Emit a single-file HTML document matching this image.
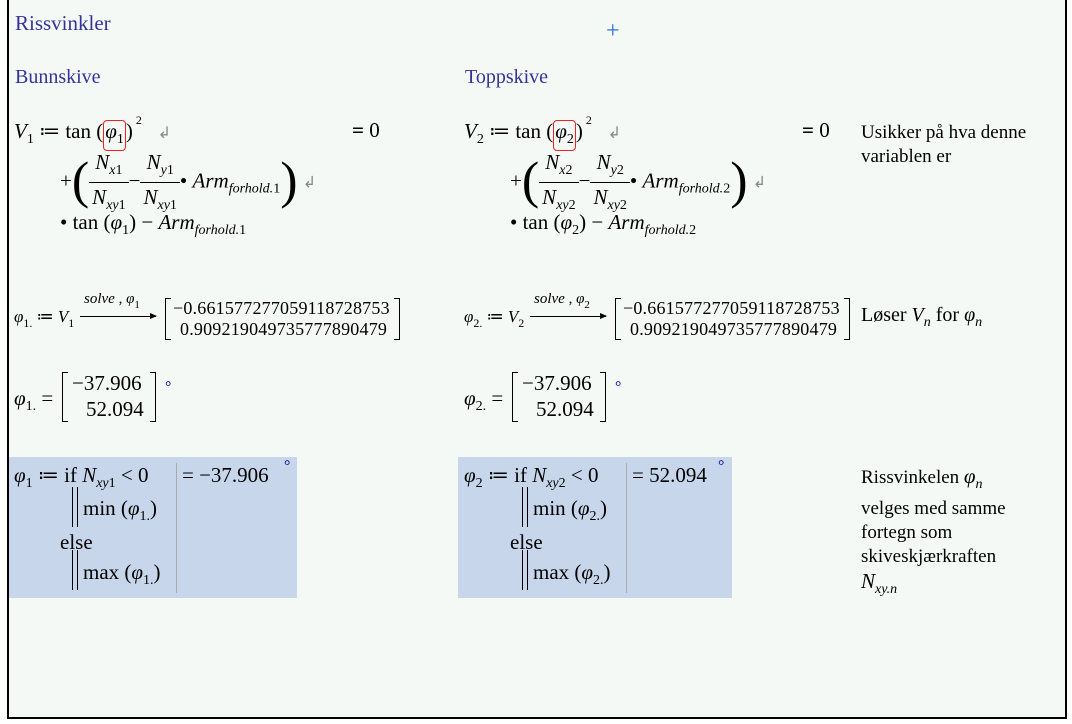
<!DOCTYPE html><html><head><meta charset="utf-8"><style>
body{margin:0;width:1072px;height:724px;background:#fff;position:relative;overflow:hidden;font-family:"Liberation Serif",serif;color:#000}
#pg{position:absolute;left:7px;top:0;width:1060px;height:719px;background:#f5f9f5;border-left:2px solid #000;border-right:2px solid #000;border-bottom:2px solid #000;box-sizing:border-box}
.a{position:absolute;white-space:nowrap;font-size:21px;line-height:1}
.h{color:#33339a}
i{font-style:italic}
sub{font-size:14px;vertical-align:-5px}
.sm{font-size:17px}
.fr{display:inline-block;text-align:center;vertical-align:middle}
.fr span{display:block;padding:0 3px}
.fr .t{border-bottom:1px solid #000;padding-bottom:4px}
.fr .b{padding-top:4px}
.hl{position:absolute;background:#c7d6ea}
.deg{color:#1a1aa0;font-size:16px;font-weight:bold}
.rb{display:inline-block;border:1.5px solid #e22;border-radius:4px;padding:0 1px;line-height:20px}
.br{position:absolute;border:1.5px solid #000;width:5px}
.gr{color:#888;font-size:16px}
.vl{position:absolute;width:1px;background:#aaa}
.dl{position:absolute;width:4px;border-left:1.5px solid #000;border-right:1.5px solid #000}
.num{font-size:18px;letter-spacing:0.2px}
.arr{position:absolute;height:1px;background:#000}
.arr:after{content:"";position:absolute;right:-1px;top:-3px;border-left:7px solid #000;border-top:3.5px solid transparent;border-bottom:3.5px solid transparent}
</style></head><body><div id="pg"></div>
<div class="a h" style="left:15px;top:13px;font-size:21px">Rissvinkler</div>
<div class="a" style="left:606px;top:19px;color:#2a6fe0;font-size:24px">+</div>
<div class="a h" style="left:15px;top:67px;font-size:20px">Bunnskive</div>
<div class="a h" style="left:465px;top:67px;font-size:20px">Toppskive</div>

<!-- left block -->
<div class="a" style="left:14px;top:114px"><i>V</i><sub>1</sub> ≔ tan (<span class="rb"><i>φ</i><sub>1</sub></span>)<sup style="font-size:12px;vertical-align:14px">&nbsp;2</sup> &nbsp;&nbsp;<span class="gr">↲</span></div>
<div class="a" style="left:352px;top:120px"><b>=</b> 0</div>
<div class="a" style="left:60px;top:152px">+<span style="font-size:52px;vertical-align:-10px;font-weight:100">(</span><span class="fr"><span class="t"><i>N</i><sub><i>x</i>1</sub></span><span class="b"><i>N</i><sub><i>xy</i>1</sub></span></span>−<span class="fr"><span class="t"><i>N</i><sub><i>y</i>1</sub></span><span class="b"><i>N</i><sub><i>xy</i>1</sub></span></span>• <i>Arm</i><sub><i>forhold.</i>1</sub><span style="font-size:52px;vertical-align:-10px">)</span> <span class="gr">↲</span></div>
<div class="a" style="left:60px;top:212px">• tan (<i>φ</i><sub>1</sub>) − <i>Arm</i><sub><i>forhold.</i>1</sub></div>

<div class="a sm" style="left:14px;top:308px"><i>φ</i><sub style="font-size:12px">1.</sub> ≔ <i>V</i><sub style="font-size:12px">1</sub></div>
<div class="a" style="left:84px;top:292px;font-size:15px"><i>solve</i> , <i>φ</i><sub style="font-size:11px">1</sub></div>
<div class="arr" style="left:80px;top:316px;width:76px"></div>
<div class="br" style="left:165px;top:298px;height:40px;border-right:none"></div>
<div class="a num" style="left:173px;top:299px">−0.661577277059118728753</div>
<div class="a num" style="left:180px;top:320px">0.909219049735777890479</div>
<div class="br" style="left:394px;top:298px;height:40px;border-left:none"></div>

<div class="a" style="left:14px;top:388px"><i>φ</i><sub>1.</sub> =</div>
<div class="br" style="left:62px;top:372px;height:48px;border-right:none"></div>
<div class="a" style="left:72px;top:373px">−37.906</div>
<div class="a" style="left:86px;top:399px">52.094</div>
<div class="br" style="left:150px;top:372px;height:48px;border-left:none"></div>
<div class="a deg" style="left:165px;top:380px">°</div>

<div class="hl" style="left:9px;top:457px;width:288px;height:141px"></div>
<div class="a" style="left:14px;top:465px"><i>φ</i><sub>1</sub> ≔ if <i>N</i><sub><i>xy</i>1</sub> &lt; 0</div>
<div class="vl" style="left:176px;top:463px;height:130px"></div>
<div class="a" style="left:182px;top:465px">= −37.906</div>
<div class="a deg" style="left:284px;top:459px">°</div>
<div class="dl" style="left:72px;top:487px;height:40px"></div>
<div class="a" style="left:83px;top:498px">min (<i>φ</i><sub>1.</sub>)</div>
<div class="a" style="left:60px;top:532px">else</div>
<div class="dl" style="left:72px;top:550px;height:40px"></div>
<div class="a" style="left:83px;top:562px">max (<i>φ</i><sub>1.</sub>)</div>

<!-- right block -->
<div class="a" style="left:464px;top:114px"><i>V</i><sub>2</sub> ≔ tan (<span class="rb"><i>φ</i><sub>2</sub></span>)<sup style="font-size:12px;vertical-align:14px">&nbsp;2</sup> &nbsp;&nbsp;<span class="gr">↲</span></div>
<div class="a" style="left:802px;top:120px"><b>=</b> 0</div>
<div class="a" style="left:510px;top:152px">+<span style="font-size:52px;vertical-align:-10px">(</span><span class="fr"><span class="t"><i>N</i><sub><i>x</i>2</sub></span><span class="b"><i>N</i><sub><i>xy</i>2</sub></span></span>−<span class="fr"><span class="t"><i>N</i><sub><i>y</i>2</sub></span><span class="b"><i>N</i><sub><i>xy</i>2</sub></span></span>• <i>Arm</i><sub><i>forhold.</i>2</sub><span style="font-size:52px;vertical-align:-10px">)</span> <span class="gr">↲</span></div>
<div class="a" style="left:510px;top:212px">• tan (<i>φ</i><sub>2</sub>) − <i>Arm</i><sub><i>forhold.</i>2</sub></div>
<div class="a" style="left:861px;top:121px;font-size:19px;line-height:24px">Usikker på hva denne<br>variablen er</div>

<div class="a sm" style="left:464px;top:308px"><i>φ</i><sub style="font-size:12px">2.</sub> ≔ <i>V</i><sub style="font-size:12px">2</sub></div>
<div class="a" style="left:534px;top:292px;font-size:15px"><i>solve</i> , <i>φ</i><sub style="font-size:11px">2</sub></div>
<div class="arr" style="left:530px;top:316px;width:76px"></div>
<div class="br" style="left:615px;top:298px;height:40px;border-right:none"></div>
<div class="a num" style="left:623px;top:299px">−0.661577277059118728753</div>
<div class="a num" style="left:630px;top:320px">0.909219049735777890479</div>
<div class="br" style="left:844px;top:298px;height:40px;border-left:none"></div>
<div class="a" style="left:861px;top:305px;font-size:20px">Løser <i>V</i><sub><i>n</i></sub> for <i>φ</i><sub><i>n</i></sub></div>

<div class="a" style="left:464px;top:388px"><i>φ</i><sub>2.</sub> =</div>
<div class="br" style="left:512px;top:372px;height:48px;border-right:none"></div>
<div class="a" style="left:522px;top:373px">−37.906</div>
<div class="a" style="left:536px;top:399px">52.094</div>
<div class="br" style="left:600px;top:372px;height:48px;border-left:none"></div>
<div class="a deg" style="left:615px;top:380px">°</div>

<div class="hl" style="left:458px;top:457px;width:274px;height:141px"></div>
<div class="a" style="left:464px;top:465px"><i>φ</i><sub>2</sub> ≔ if <i>N</i><sub><i>xy</i>2</sub> &lt; 0</div>
<div class="vl" style="left:626px;top:463px;height:130px"></div>
<div class="a" style="left:632px;top:465px">= 52.094</div>
<div class="a deg" style="left:718px;top:459px">°</div>
<div class="dl" style="left:522px;top:487px;height:40px"></div>
<div class="a" style="left:533px;top:498px">min (<i>φ</i><sub>2.</sub>)</div>
<div class="a" style="left:510px;top:532px">else</div>
<div class="dl" style="left:522px;top:550px;height:40px"></div>
<div class="a" style="left:533px;top:562px">max (<i>φ</i><sub>2.</sub>)</div>

<div class="a" style="left:861px;top:464px;font-size:19px;line-height:24px">Rissvinkelen <i style="font-size:21px">φ</i><sub><i>n</i></sub><br>velges med samme<br>fortegn som<br>skiveskjærkraften<br><i style="font-size:21px">N</i><sub><i>xy.n</i></sub></div>
</body></html>
